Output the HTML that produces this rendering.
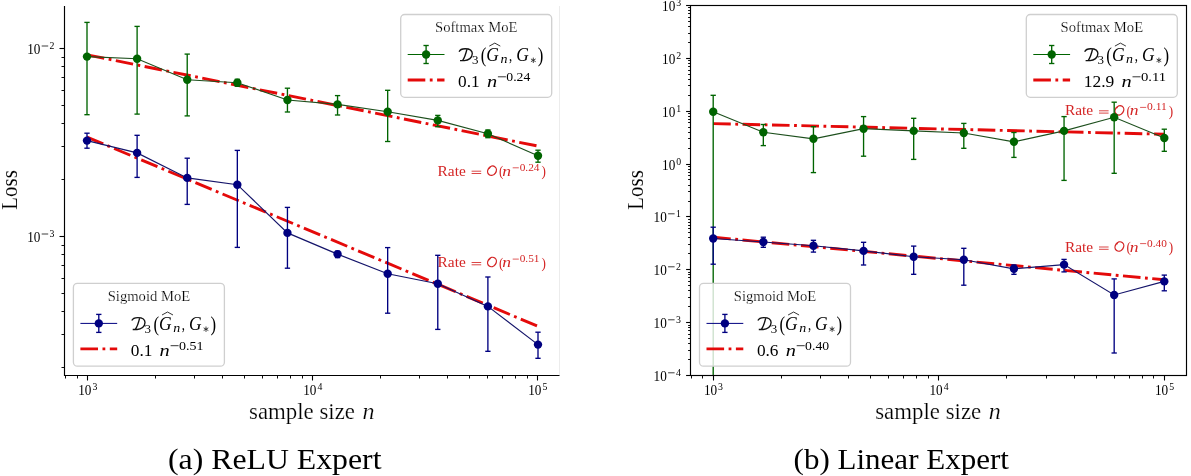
<!DOCTYPE html><html><head><meta charset="utf-8"><style>html,body{margin:0;padding:0;background:#fff;overflow:hidden}svg{display:block;will-change:transform}</style></head><body><svg width="1191" height="476" viewBox="0 0 1191 476" font-family='"Liberation Serif", serif'>
<rect width="1191" height="476" fill="#fff"/>
<line x1="559.50" y1="6.00" x2="559.50" y2="375.50" stroke="#ececec" stroke-width="1" />
<text x="437.60" y="175.70" font-size="14.3" fill="#d42525" textLength="28.20" lengthAdjust="spacingAndGlyphs" text-anchor="start" >Rate</text>
<path d="M471.60,171.20h9.6M471.60,173.50h9.6" stroke="#d42525" stroke-width="0.85" fill="none"/>
<ellipse cx="492.00" cy="170.70" rx="4.1" ry="4.9" transform="rotate(35 492.00 170.70)" fill="none" stroke="#d42525" stroke-width="1.35"/>
<path d="M489.40,168.90 c0.2,-1.2 0.9,-1.9 1.6,-2.4" fill="none" stroke="#d42525" stroke-width="0.9"/>
<text x="499.00" y="176.40" font-size="15.5" fill="#d42525" textLength="4.40" lengthAdjust="spacingAndGlyphs" text-anchor="start" >(</text>
<text x="502.30" y="175.70" font-size="14.3" fill="#d42525" font-style="italic" textLength="8.80" lengthAdjust="spacingAndGlyphs" text-anchor="start" >n</text>
<line x1="512.70" y1="167.80" x2="518.80" y2="167.80" stroke="#d42525" stroke-width="0.75"/>
<text x="519.70" y="170.70" font-size="10" fill="#d42525" textLength="19.80" lengthAdjust="spacingAndGlyphs" text-anchor="start" >0.24</text>
<text x="541.40" y="176.40" font-size="15.5" fill="#d42525" textLength="4.40" lengthAdjust="spacingAndGlyphs" text-anchor="start" >)</text>
<text x="437.60" y="267.00" font-size="14.3" fill="#d42525" textLength="28.20" lengthAdjust="spacingAndGlyphs" text-anchor="start" >Rate</text>
<path d="M471.60,262.50h9.6M471.60,264.80h9.6" stroke="#d42525" stroke-width="0.85" fill="none"/>
<ellipse cx="492.00" cy="262.00" rx="4.1" ry="4.9" transform="rotate(35 492.00 262.00)" fill="none" stroke="#d42525" stroke-width="1.35"/>
<path d="M489.40,260.20 c0.2,-1.2 0.9,-1.9 1.6,-2.4" fill="none" stroke="#d42525" stroke-width="0.9"/>
<text x="499.00" y="267.70" font-size="15.5" fill="#d42525" textLength="4.40" lengthAdjust="spacingAndGlyphs" text-anchor="start" >(</text>
<text x="502.30" y="267.00" font-size="14.3" fill="#d42525" font-style="italic" textLength="8.80" lengthAdjust="spacingAndGlyphs" text-anchor="start" >n</text>
<line x1="512.70" y1="259.10" x2="518.80" y2="259.10" stroke="#d42525" stroke-width="0.75"/>
<text x="519.70" y="262.00" font-size="10" fill="#d42525" textLength="19.80" lengthAdjust="spacingAndGlyphs" text-anchor="start" >0.51</text>
<text x="541.40" y="267.70" font-size="15.5" fill="#d42525" textLength="4.40" lengthAdjust="spacingAndGlyphs" text-anchor="start" >)</text>
<line x1="87.00" y1="54.80" x2="538.00" y2="146.10" stroke="#e40a0a" stroke-width="2.9" stroke-dasharray="17.6 4.5 2.8 4.5"/>
<line x1="87.00" y1="137.10" x2="538.00" y2="326.30" stroke="#e40a0a" stroke-width="2.9" stroke-dasharray="17.6 4.5 2.8 4.5"/>
<path d="M87.00,56.60 L137.11,58.80 L187.22,79.70 L237.33,82.70 L287.44,100.00 L337.55,104.40 L387.67,111.80 L437.78,120.40 L487.89,133.70 L538.00,155.70" fill="none" stroke="#1d4f1d" stroke-width="1.15"/>
<path d="M87.00,140.60 L137.11,152.90 L187.22,177.90 L237.33,184.70 L287.44,232.90 L337.55,254.10 L387.67,273.80 L437.78,283.80 L487.89,306.40 L538.00,344.60" fill="none" stroke="#14146a" stroke-width="1.15"/>
<circle cx="87.00" cy="56.60" r="4.2" fill="#006400"/>
<circle cx="137.11" cy="58.80" r="4.2" fill="#006400"/>
<circle cx="187.22" cy="79.70" r="4.2" fill="#006400"/>
<circle cx="237.33" cy="82.70" r="4.2" fill="#006400"/>
<circle cx="287.44" cy="100.00" r="4.2" fill="#006400"/>
<circle cx="337.55" cy="104.40" r="4.2" fill="#006400"/>
<circle cx="387.67" cy="111.80" r="4.2" fill="#006400"/>
<circle cx="437.78" cy="120.40" r="4.2" fill="#006400"/>
<circle cx="487.89" cy="133.70" r="4.2" fill="#006400"/>
<circle cx="538.00" cy="155.70" r="4.2" fill="#006400"/>
<line x1="87.00" y1="22.40" x2="87.00" y2="114.70" stroke="#006400" stroke-width="1.35" />
<line x1="84.35" y1="22.40" x2="89.65" y2="22.40" stroke="#006400" stroke-width="1.35" />
<line x1="84.35" y1="114.70" x2="89.65" y2="114.70" stroke="#006400" stroke-width="1.35" />
<line x1="137.11" y1="26.40" x2="137.11" y2="114.10" stroke="#006400" stroke-width="1.35" />
<line x1="134.46" y1="26.40" x2="139.76" y2="26.40" stroke="#006400" stroke-width="1.35" />
<line x1="134.46" y1="114.10" x2="139.76" y2="114.10" stroke="#006400" stroke-width="1.35" />
<line x1="187.22" y1="54.10" x2="187.22" y2="115.90" stroke="#006400" stroke-width="1.35" />
<line x1="184.57" y1="54.10" x2="189.87" y2="54.10" stroke="#006400" stroke-width="1.35" />
<line x1="184.57" y1="115.90" x2="189.87" y2="115.90" stroke="#006400" stroke-width="1.35" />
<line x1="237.33" y1="79.30" x2="237.33" y2="86.20" stroke="#006400" stroke-width="1.35" />
<line x1="234.68" y1="79.30" x2="239.98" y2="79.30" stroke="#006400" stroke-width="1.35" />
<line x1="234.68" y1="86.20" x2="239.98" y2="86.20" stroke="#006400" stroke-width="1.35" />
<line x1="287.44" y1="88.20" x2="287.44" y2="112.00" stroke="#006400" stroke-width="1.35" />
<line x1="284.79" y1="88.20" x2="290.09" y2="88.20" stroke="#006400" stroke-width="1.35" />
<line x1="284.79" y1="112.00" x2="290.09" y2="112.00" stroke="#006400" stroke-width="1.35" />
<line x1="337.55" y1="95.60" x2="337.55" y2="115.00" stroke="#006400" stroke-width="1.35" />
<line x1="334.90" y1="95.60" x2="340.20" y2="95.60" stroke="#006400" stroke-width="1.35" />
<line x1="334.90" y1="115.00" x2="340.20" y2="115.00" stroke="#006400" stroke-width="1.35" />
<line x1="387.67" y1="90.30" x2="387.67" y2="141.50" stroke="#006400" stroke-width="1.35" />
<line x1="385.02" y1="90.30" x2="390.32" y2="90.30" stroke="#006400" stroke-width="1.35" />
<line x1="385.02" y1="141.50" x2="390.32" y2="141.50" stroke="#006400" stroke-width="1.35" />
<line x1="437.78" y1="115.40" x2="437.78" y2="126.70" stroke="#006400" stroke-width="1.35" />
<line x1="435.13" y1="115.40" x2="440.43" y2="115.40" stroke="#006400" stroke-width="1.35" />
<line x1="435.13" y1="126.70" x2="440.43" y2="126.70" stroke="#006400" stroke-width="1.35" />
<line x1="487.89" y1="130.00" x2="487.89" y2="137.70" stroke="#006400" stroke-width="1.35" />
<line x1="485.24" y1="130.00" x2="490.54" y2="130.00" stroke="#006400" stroke-width="1.35" />
<line x1="485.24" y1="137.70" x2="490.54" y2="137.70" stroke="#006400" stroke-width="1.35" />
<line x1="538.00" y1="150.20" x2="538.00" y2="162.20" stroke="#006400" stroke-width="1.35" />
<line x1="535.35" y1="150.20" x2="540.65" y2="150.20" stroke="#006400" stroke-width="1.35" />
<line x1="535.35" y1="162.20" x2="540.65" y2="162.20" stroke="#006400" stroke-width="1.35" />
<circle cx="87.00" cy="140.60" r="4.2" fill="#000080"/>
<circle cx="137.11" cy="152.90" r="4.2" fill="#000080"/>
<circle cx="187.22" cy="177.90" r="4.2" fill="#000080"/>
<circle cx="237.33" cy="184.70" r="4.2" fill="#000080"/>
<circle cx="287.44" cy="232.90" r="4.2" fill="#000080"/>
<circle cx="337.55" cy="254.10" r="4.2" fill="#000080"/>
<circle cx="387.67" cy="273.80" r="4.2" fill="#000080"/>
<circle cx="437.78" cy="283.80" r="4.2" fill="#000080"/>
<circle cx="487.89" cy="306.40" r="4.2" fill="#000080"/>
<circle cx="538.00" cy="344.60" r="4.2" fill="#000080"/>
<line x1="87.00" y1="133.20" x2="87.00" y2="148.20" stroke="#000080" stroke-width="1.35" />
<line x1="84.35" y1="133.20" x2="89.65" y2="133.20" stroke="#000080" stroke-width="1.35" />
<line x1="84.35" y1="148.20" x2="89.65" y2="148.20" stroke="#000080" stroke-width="1.35" />
<line x1="137.11" y1="135.30" x2="137.11" y2="177.40" stroke="#000080" stroke-width="1.35" />
<line x1="134.46" y1="135.30" x2="139.76" y2="135.30" stroke="#000080" stroke-width="1.35" />
<line x1="134.46" y1="177.40" x2="139.76" y2="177.40" stroke="#000080" stroke-width="1.35" />
<line x1="187.22" y1="158.20" x2="187.22" y2="204.40" stroke="#000080" stroke-width="1.35" />
<line x1="184.57" y1="158.20" x2="189.87" y2="158.20" stroke="#000080" stroke-width="1.35" />
<line x1="184.57" y1="204.40" x2="189.87" y2="204.40" stroke="#000080" stroke-width="1.35" />
<line x1="237.33" y1="150.40" x2="237.33" y2="247.40" stroke="#000080" stroke-width="1.35" />
<line x1="234.68" y1="150.40" x2="239.98" y2="150.40" stroke="#000080" stroke-width="1.35" />
<line x1="234.68" y1="247.40" x2="239.98" y2="247.40" stroke="#000080" stroke-width="1.35" />
<line x1="287.44" y1="207.40" x2="287.44" y2="268.20" stroke="#000080" stroke-width="1.35" />
<line x1="284.79" y1="207.40" x2="290.09" y2="207.40" stroke="#000080" stroke-width="1.35" />
<line x1="284.79" y1="268.20" x2="290.09" y2="268.20" stroke="#000080" stroke-width="1.35" />
<line x1="337.55" y1="251.20" x2="337.55" y2="257.60" stroke="#000080" stroke-width="1.35" />
<line x1="334.90" y1="251.20" x2="340.20" y2="251.20" stroke="#000080" stroke-width="1.35" />
<line x1="334.90" y1="257.60" x2="340.20" y2="257.60" stroke="#000080" stroke-width="1.35" />
<line x1="387.67" y1="247.60" x2="387.67" y2="313.20" stroke="#000080" stroke-width="1.35" />
<line x1="385.02" y1="247.60" x2="390.32" y2="247.60" stroke="#000080" stroke-width="1.35" />
<line x1="385.02" y1="313.20" x2="390.32" y2="313.20" stroke="#000080" stroke-width="1.35" />
<line x1="437.78" y1="255.30" x2="437.78" y2="329.40" stroke="#000080" stroke-width="1.35" />
<line x1="435.13" y1="255.30" x2="440.43" y2="255.30" stroke="#000080" stroke-width="1.35" />
<line x1="435.13" y1="329.40" x2="440.43" y2="329.40" stroke="#000080" stroke-width="1.35" />
<line x1="487.89" y1="277.00" x2="487.89" y2="351.30" stroke="#000080" stroke-width="1.35" />
<line x1="485.24" y1="277.00" x2="490.54" y2="277.00" stroke="#000080" stroke-width="1.35" />
<line x1="485.24" y1="351.30" x2="490.54" y2="351.30" stroke="#000080" stroke-width="1.35" />
<line x1="538.00" y1="332.20" x2="538.00" y2="358.30" stroke="#000080" stroke-width="1.35" />
<line x1="535.35" y1="332.20" x2="540.65" y2="332.20" stroke="#000080" stroke-width="1.35" />
<line x1="535.35" y1="358.30" x2="540.65" y2="358.30" stroke="#000080" stroke-width="1.35" />
<line x1="64.50" y1="6.00" x2="64.50" y2="376.00" stroke="#000" stroke-width="1.15" />
<line x1="64.00" y1="375.50" x2="559.50" y2="375.50" stroke="#000" stroke-width="1.15" />
<line x1="59.50" y1="48.50" x2="64.50" y2="48.50" stroke="#000" stroke-width="1.1" />
<line x1="59.50" y1="236.50" x2="64.50" y2="236.50" stroke="#000" stroke-width="1.1" />
<line x1="61.50" y1="367.50" x2="64.50" y2="367.50" stroke="#000" stroke-width="0.95" />
<line x1="61.50" y1="334.50" x2="64.50" y2="334.50" stroke="#000" stroke-width="0.95" />
<line x1="61.50" y1="311.50" x2="64.50" y2="311.50" stroke="#000" stroke-width="0.95" />
<line x1="61.50" y1="293.50" x2="64.50" y2="293.50" stroke="#000" stroke-width="0.95" />
<line x1="61.50" y1="278.50" x2="64.50" y2="278.50" stroke="#000" stroke-width="0.95" />
<line x1="61.50" y1="265.50" x2="64.50" y2="265.50" stroke="#000" stroke-width="0.95" />
<line x1="61.50" y1="254.50" x2="64.50" y2="254.50" stroke="#000" stroke-width="0.95" />
<line x1="61.50" y1="245.50" x2="64.50" y2="245.50" stroke="#000" stroke-width="0.95" />
<line x1="61.50" y1="179.50" x2="64.50" y2="179.50" stroke="#000" stroke-width="0.95" />
<line x1="61.50" y1="146.50" x2="64.50" y2="146.50" stroke="#000" stroke-width="0.95" />
<line x1="61.50" y1="123.50" x2="64.50" y2="123.50" stroke="#000" stroke-width="0.95" />
<line x1="61.50" y1="105.50" x2="64.50" y2="105.50" stroke="#000" stroke-width="0.95" />
<line x1="61.50" y1="90.50" x2="64.50" y2="90.50" stroke="#000" stroke-width="0.95" />
<line x1="61.50" y1="77.50" x2="64.50" y2="77.50" stroke="#000" stroke-width="0.95" />
<line x1="61.50" y1="66.50" x2="64.50" y2="66.50" stroke="#000" stroke-width="0.95" />
<line x1="61.50" y1="57.50" x2="64.50" y2="57.50" stroke="#000" stroke-width="0.95" />
<line x1="87.50" y1="375.50" x2="87.50" y2="380.50" stroke="#000" stroke-width="1.1" />
<line x1="312.50" y1="375.50" x2="312.50" y2="380.50" stroke="#000" stroke-width="1.1" />
<line x1="537.50" y1="375.50" x2="537.50" y2="380.50" stroke="#000" stroke-width="1.1" />
<line x1="65.50" y1="375.50" x2="65.50" y2="378.50" stroke="#000" stroke-width="0.95" />
<line x1="77.50" y1="375.50" x2="77.50" y2="378.50" stroke="#000" stroke-width="0.95" />
<line x1="155.50" y1="375.50" x2="155.50" y2="378.50" stroke="#000" stroke-width="0.95" />
<line x1="194.50" y1="375.50" x2="194.50" y2="378.50" stroke="#000" stroke-width="0.95" />
<line x1="222.50" y1="375.50" x2="222.50" y2="378.50" stroke="#000" stroke-width="0.95" />
<line x1="244.50" y1="375.50" x2="244.50" y2="378.50" stroke="#000" stroke-width="0.95" />
<line x1="262.50" y1="375.50" x2="262.50" y2="378.50" stroke="#000" stroke-width="0.95" />
<line x1="277.50" y1="375.50" x2="277.50" y2="378.50" stroke="#000" stroke-width="0.95" />
<line x1="290.50" y1="375.50" x2="290.50" y2="378.50" stroke="#000" stroke-width="0.95" />
<line x1="302.50" y1="375.50" x2="302.50" y2="378.50" stroke="#000" stroke-width="0.95" />
<line x1="380.50" y1="375.50" x2="380.50" y2="378.50" stroke="#000" stroke-width="0.95" />
<line x1="419.50" y1="375.50" x2="419.50" y2="378.50" stroke="#000" stroke-width="0.95" />
<line x1="447.50" y1="375.50" x2="447.50" y2="378.50" stroke="#000" stroke-width="0.95" />
<line x1="469.50" y1="375.50" x2="469.50" y2="378.50" stroke="#000" stroke-width="0.95" />
<line x1="487.50" y1="375.50" x2="487.50" y2="378.50" stroke="#000" stroke-width="0.95" />
<line x1="502.50" y1="375.50" x2="502.50" y2="378.50" stroke="#000" stroke-width="0.95" />
<line x1="515.50" y1="375.50" x2="515.50" y2="378.50" stroke="#000" stroke-width="0.95" />
<line x1="527.50" y1="375.50" x2="527.50" y2="378.50" stroke="#000" stroke-width="0.95" />
<text x="27.20" y="53.80" font-size="14.5" fill="#000" textLength="13.20" lengthAdjust="spacingAndGlyphs" text-anchor="start" >10</text>
<line x1="41.70" y1="46.00" x2="48.20" y2="46.00" stroke="#333" stroke-width="0.95"/>
<text x="49.60" y="49.00" font-size="10.2" fill="#000" textLength="4.90" lengthAdjust="spacingAndGlyphs" text-anchor="start" >2</text>
<text x="27.20" y="241.80" font-size="14.5" fill="#000" textLength="13.20" lengthAdjust="spacingAndGlyphs" text-anchor="start" >10</text>
<line x1="41.70" y1="234.00" x2="48.20" y2="234.00" stroke="#333" stroke-width="0.95"/>
<text x="49.60" y="237.00" font-size="10.2" fill="#000" textLength="4.90" lengthAdjust="spacingAndGlyphs" text-anchor="start" >3</text>
<text x="78.20" y="394.90" font-size="14.5" fill="#000" textLength="13.20" lengthAdjust="spacingAndGlyphs" text-anchor="start" >10</text>
<text x="92.40" y="390.10" font-size="10.2" fill="#000" textLength="4.90" lengthAdjust="spacingAndGlyphs" text-anchor="start" >3</text>
<text x="303.20" y="394.90" font-size="14.5" fill="#000" textLength="13.20" lengthAdjust="spacingAndGlyphs" text-anchor="start" >10</text>
<text x="317.40" y="390.10" font-size="10.2" fill="#000" textLength="4.90" lengthAdjust="spacingAndGlyphs" text-anchor="start" >4</text>
<text x="528.20" y="394.90" font-size="14.5" fill="#000" textLength="13.20" lengthAdjust="spacingAndGlyphs" text-anchor="start" >10</text>
<text x="542.40" y="390.10" font-size="10.2" fill="#000" textLength="4.90" lengthAdjust="spacingAndGlyphs" text-anchor="start" >5</text>
<rect x="400.70" y="14.50" width="151" height="82.8" rx="4" ry="4" fill="#fff" fill-opacity="0.8" stroke="#cfcfcf" stroke-width="1.3"/>
<text x="435.00" y="32.00" font-size="13.8" fill="#000" textLength="82.50" lengthAdjust="spacingAndGlyphs" text-anchor="start" stroke="#fff" stroke-width="0.2">Softmax MoE</text>
<line x1="407.70" y1="54.50" x2="444.50" y2="54.50" stroke="#006400" stroke-width="1.0" />
<line x1="426.10" y1="45.50" x2="426.10" y2="63.50" stroke="#006400" stroke-width="1.35" />
<line x1="423.45" y1="45.50" x2="428.75" y2="45.50" stroke="#006400" stroke-width="1.35" />
<line x1="423.45" y1="63.50" x2="428.75" y2="63.50" stroke="#006400" stroke-width="1.35" />
<circle cx="426.10" cy="54.50" r="4.2" fill="#006400"/>
<line x1="407.70" y1="80.00" x2="444.50" y2="80.00" stroke="#e40a0a" stroke-width="2.9" stroke-dasharray="17.6 4.5 2.8 4.5"/>
<path transform="translate(459.10,60.60)" d="M0,-8.9 C0.8,-10.9 3,-11.9 6,-11.9 C10.6,-11.9 13.2,-10 13.2,-7 C13.2,-2.9 9.4,0 5.3,0 L0.9,0 M7.9,-11.6 C6.9,-7.5 5.6,-3 3.6,-0.3" fill="none" stroke="#111" stroke-width="1.35"/>
<text x="471.90" y="63.70" font-size="12" fill="#000" textLength="6.50" lengthAdjust="spacingAndGlyphs" text-anchor="start" >3</text>
<text x="480.70" y="62.10" font-size="20" fill="#000" textLength="5.60" lengthAdjust="spacingAndGlyphs" text-anchor="start" >(</text>
<path d="M489.30,46.10 L494.80,43.10 L500.30,46.10" fill="none" stroke="#111" stroke-width="0.85"/>
<text x="486.30" y="61.10" font-size="18.6" fill="#000" font-style="italic" textLength="12.60" lengthAdjust="spacingAndGlyphs" text-anchor="start" >G</text>
<text x="500.50" y="63.10" font-size="12" fill="#000" font-style="italic" textLength="7.00" lengthAdjust="spacingAndGlyphs" text-anchor="start" >n</text>
<text x="509.10" y="61.20" font-size="17" fill="#000" textLength="3.20" lengthAdjust="spacingAndGlyphs" text-anchor="start" >,</text>
<text x="516.30" y="61.10" font-size="18.6" fill="#000" font-style="italic" textLength="12.60" lengthAdjust="spacingAndGlyphs" text-anchor="start" >G</text>
<path d="M533.30,57.60V63.00M530.95,58.95L535.65,61.65M530.95,61.65L535.65,58.95" stroke="#222" stroke-width="0.85" fill="none"/>
<text x="537.80" y="62.10" font-size="20" fill="#000" textLength="5.60" lengthAdjust="spacingAndGlyphs" text-anchor="start" >)</text>
<text x="458.10" y="86.80" font-size="17.5" fill="#000" textLength="21.60" lengthAdjust="spacingAndGlyphs" text-anchor="start" >0.1</text>
<text x="486.90" y="86.80" font-size="17.2" fill="#000" font-style="italic" textLength="10.20" lengthAdjust="spacingAndGlyphs" text-anchor="start" >n</text>
<line x1="497.90" y1="76.80" x2="505.90" y2="76.80" stroke="#111" stroke-width="0.85"/>
<text x="506.30" y="80.90" font-size="12.2" fill="#000" textLength="24.00" lengthAdjust="spacingAndGlyphs" text-anchor="start" >0.24</text>
<rect x="73.40" y="283.40" width="151" height="82.8" rx="4" ry="4" fill="#fff" fill-opacity="0.8" stroke="#cfcfcf" stroke-width="1.3"/>
<text x="107.70" y="300.90" font-size="13.8" fill="#000" textLength="82.50" lengthAdjust="spacingAndGlyphs" text-anchor="start" stroke="#fff" stroke-width="0.2">Sigmoid MoE</text>
<line x1="80.40" y1="323.40" x2="117.20" y2="323.40" stroke="#000080" stroke-width="1.0" />
<line x1="98.80" y1="314.40" x2="98.80" y2="332.40" stroke="#000080" stroke-width="1.35" />
<line x1="96.15" y1="314.40" x2="101.45" y2="314.40" stroke="#000080" stroke-width="1.35" />
<line x1="96.15" y1="332.40" x2="101.45" y2="332.40" stroke="#000080" stroke-width="1.35" />
<circle cx="98.80" cy="323.40" r="4.2" fill="#000080"/>
<line x1="80.40" y1="348.90" x2="117.20" y2="348.90" stroke="#e40a0a" stroke-width="2.9" stroke-dasharray="17.6 4.5 2.8 4.5"/>
<path transform="translate(131.80,329.50)" d="M0,-8.9 C0.8,-10.9 3,-11.9 6,-11.9 C10.6,-11.9 13.2,-10 13.2,-7 C13.2,-2.9 9.4,0 5.3,0 L0.9,0 M7.9,-11.6 C6.9,-7.5 5.6,-3 3.6,-0.3" fill="none" stroke="#111" stroke-width="1.35"/>
<text x="144.60" y="332.60" font-size="12" fill="#000" textLength="6.50" lengthAdjust="spacingAndGlyphs" text-anchor="start" >3</text>
<text x="153.40" y="331.00" font-size="20" fill="#000" textLength="5.60" lengthAdjust="spacingAndGlyphs" text-anchor="start" >(</text>
<path d="M162.00,315.00 L167.50,312.00 L173.00,315.00" fill="none" stroke="#111" stroke-width="0.85"/>
<text x="159.00" y="330.00" font-size="18.6" fill="#000" font-style="italic" textLength="12.60" lengthAdjust="spacingAndGlyphs" text-anchor="start" >G</text>
<text x="173.20" y="332.00" font-size="12" fill="#000" font-style="italic" textLength="7.00" lengthAdjust="spacingAndGlyphs" text-anchor="start" >n</text>
<text x="181.80" y="330.10" font-size="17" fill="#000" textLength="3.20" lengthAdjust="spacingAndGlyphs" text-anchor="start" >,</text>
<text x="189.00" y="330.00" font-size="18.6" fill="#000" font-style="italic" textLength="12.60" lengthAdjust="spacingAndGlyphs" text-anchor="start" >G</text>
<path d="M206.00,326.50V331.90M203.65,327.85L208.35,330.55M203.65,330.55L208.35,327.85" stroke="#222" stroke-width="0.85" fill="none"/>
<text x="210.50" y="331.00" font-size="20" fill="#000" textLength="5.60" lengthAdjust="spacingAndGlyphs" text-anchor="start" >)</text>
<text x="130.80" y="355.70" font-size="17.5" fill="#000" textLength="21.60" lengthAdjust="spacingAndGlyphs" text-anchor="start" >0.1</text>
<text x="159.60" y="355.70" font-size="17.2" fill="#000" font-style="italic" textLength="10.20" lengthAdjust="spacingAndGlyphs" text-anchor="start" >n</text>
<line x1="170.60" y1="345.70" x2="178.60" y2="345.70" stroke="#111" stroke-width="0.85"/>
<text x="179.00" y="349.80" font-size="12.2" fill="#000" textLength="24.50" lengthAdjust="spacingAndGlyphs" text-anchor="start" >0.51</text>
<text x="249.00" y="419.10" font-size="22.5" fill="#000" textLength="106.00" lengthAdjust="spacingAndGlyphs" stroke="#fff" stroke-width="0.20" text-anchor="start" >sample size</text>
<text x="362.50" y="419.10" font-size="22.5" fill="#000" font-style="italic" textLength="12.00" lengthAdjust="spacingAndGlyphs" stroke="#fff" stroke-width="0.20" text-anchor="start" >n</text>
<text transform="translate(16.8,209.7) rotate(-90)" font-size="23" textLength="39.5" lengthAdjust="spacingAndGlyphs" stroke="#fff" stroke-width="0.1">Loss</text>
<text x="168.00" y="468.70" font-size="30.2" fill="#000" textLength="213.50" lengthAdjust="spacingAndGlyphs" text-anchor="start" >(a) ReLU Expert</text>
<text x="1065.00" y="115.30" font-size="14.3" fill="#d42525" textLength="28.20" lengthAdjust="spacingAndGlyphs" text-anchor="start" >Rate</text>
<path d="M1099.00,110.80h9.6M1099.00,113.10h9.6" stroke="#d42525" stroke-width="0.85" fill="none"/>
<ellipse cx="1119.40" cy="110.30" rx="4.1" ry="4.9" transform="rotate(35 1119.40 110.30)" fill="none" stroke="#d42525" stroke-width="1.35"/>
<path d="M1116.80,108.50 c0.2,-1.2 0.9,-1.9 1.6,-2.4" fill="none" stroke="#d42525" stroke-width="0.9"/>
<text x="1126.40" y="116.00" font-size="15.5" fill="#d42525" textLength="4.40" lengthAdjust="spacingAndGlyphs" text-anchor="start" >(</text>
<text x="1129.70" y="115.30" font-size="14.3" fill="#d42525" font-style="italic" textLength="8.80" lengthAdjust="spacingAndGlyphs" text-anchor="start" >n</text>
<line x1="1140.10" y1="107.40" x2="1146.20" y2="107.40" stroke="#d42525" stroke-width="0.75"/>
<text x="1147.10" y="110.30" font-size="10" fill="#d42525" textLength="19.80" lengthAdjust="spacingAndGlyphs" text-anchor="start" >0.11</text>
<text x="1168.80" y="116.00" font-size="15.5" fill="#d42525" textLength="4.40" lengthAdjust="spacingAndGlyphs" text-anchor="start" >)</text>
<text x="1065.00" y="251.50" font-size="14.3" fill="#d42525" textLength="28.20" lengthAdjust="spacingAndGlyphs" text-anchor="start" >Rate</text>
<path d="M1099.00,247.00h9.6M1099.00,249.30h9.6" stroke="#d42525" stroke-width="0.85" fill="none"/>
<ellipse cx="1119.40" cy="246.50" rx="4.1" ry="4.9" transform="rotate(35 1119.40 246.50)" fill="none" stroke="#d42525" stroke-width="1.35"/>
<path d="M1116.80,244.70 c0.2,-1.2 0.9,-1.9 1.6,-2.4" fill="none" stroke="#d42525" stroke-width="0.9"/>
<text x="1126.40" y="252.20" font-size="15.5" fill="#d42525" textLength="4.40" lengthAdjust="spacingAndGlyphs" text-anchor="start" >(</text>
<text x="1129.70" y="251.50" font-size="14.3" fill="#d42525" font-style="italic" textLength="8.80" lengthAdjust="spacingAndGlyphs" text-anchor="start" >n</text>
<line x1="1140.10" y1="243.60" x2="1146.20" y2="243.60" stroke="#d42525" stroke-width="0.75"/>
<text x="1147.10" y="246.50" font-size="10" fill="#d42525" textLength="19.80" lengthAdjust="spacingAndGlyphs" text-anchor="start" >0.40</text>
<text x="1168.80" y="252.20" font-size="15.5" fill="#d42525" textLength="4.40" lengthAdjust="spacingAndGlyphs" text-anchor="start" >)</text>
<line x1="713.20" y1="123.60" x2="1164.30" y2="134.20" stroke="#e40a0a" stroke-width="2.9" stroke-dasharray="17.6 4.5 2.8 4.5"/>
<line x1="713.20" y1="237.20" x2="1164.30" y2="279.80" stroke="#e40a0a" stroke-width="2.9" stroke-dasharray="17.6 4.5 2.8 4.5"/>
<path d="M713.20,111.80 L763.32,132.20 L813.44,138.80 L863.57,128.70 L913.69,130.90 L963.81,133.00 L1013.93,141.80 L1064.05,130.90 L1114.18,117.30 L1164.30,138.00" fill="none" stroke="#1d4f1d" stroke-width="1.15"/>
<path d="M713.20,238.50 L763.32,242.00 L813.44,245.80 L863.57,250.90 L913.69,256.70 L963.81,259.70 L1013.93,268.80 L1064.05,264.60 L1114.18,295.00 L1164.30,281.40" fill="none" stroke="#14146a" stroke-width="1.15"/>
<circle cx="713.20" cy="111.80" r="4.2" fill="#006400"/>
<circle cx="763.32" cy="132.20" r="4.2" fill="#006400"/>
<circle cx="813.44" cy="138.80" r="4.2" fill="#006400"/>
<circle cx="863.57" cy="128.70" r="4.2" fill="#006400"/>
<circle cx="913.69" cy="130.90" r="4.2" fill="#006400"/>
<circle cx="963.81" cy="133.00" r="4.2" fill="#006400"/>
<circle cx="1013.93" cy="141.80" r="4.2" fill="#006400"/>
<circle cx="1064.05" cy="130.90" r="4.2" fill="#006400"/>
<circle cx="1114.18" cy="117.30" r="4.2" fill="#006400"/>
<circle cx="1164.30" cy="138.00" r="4.2" fill="#006400"/>
<line x1="713.20" y1="95.30" x2="713.20" y2="375.50" stroke="#006400" stroke-width="1.35" />
<line x1="710.55" y1="95.30" x2="715.85" y2="95.30" stroke="#006400" stroke-width="1.35" />
<line x1="763.32" y1="124.50" x2="763.32" y2="145.60" stroke="#006400" stroke-width="1.35" />
<line x1="760.67" y1="124.50" x2="765.97" y2="124.50" stroke="#006400" stroke-width="1.35" />
<line x1="760.67" y1="145.60" x2="765.97" y2="145.60" stroke="#006400" stroke-width="1.35" />
<line x1="813.44" y1="126.70" x2="813.44" y2="172.60" stroke="#006400" stroke-width="1.35" />
<line x1="810.79" y1="126.70" x2="816.09" y2="126.70" stroke="#006400" stroke-width="1.35" />
<line x1="810.79" y1="172.60" x2="816.09" y2="172.60" stroke="#006400" stroke-width="1.35" />
<line x1="863.57" y1="116.60" x2="863.57" y2="156.20" stroke="#006400" stroke-width="1.35" />
<line x1="860.92" y1="116.60" x2="866.22" y2="116.60" stroke="#006400" stroke-width="1.35" />
<line x1="860.92" y1="156.20" x2="866.22" y2="156.20" stroke="#006400" stroke-width="1.35" />
<line x1="913.69" y1="118.30" x2="913.69" y2="159.40" stroke="#006400" stroke-width="1.35" />
<line x1="911.04" y1="118.30" x2="916.34" y2="118.30" stroke="#006400" stroke-width="1.35" />
<line x1="911.04" y1="159.40" x2="916.34" y2="159.40" stroke="#006400" stroke-width="1.35" />
<line x1="963.81" y1="123.40" x2="963.81" y2="148.30" stroke="#006400" stroke-width="1.35" />
<line x1="961.16" y1="123.40" x2="966.46" y2="123.40" stroke="#006400" stroke-width="1.35" />
<line x1="961.16" y1="148.30" x2="966.46" y2="148.30" stroke="#006400" stroke-width="1.35" />
<line x1="1013.93" y1="132.50" x2="1013.93" y2="157.40" stroke="#006400" stroke-width="1.35" />
<line x1="1011.28" y1="132.50" x2="1016.58" y2="132.50" stroke="#006400" stroke-width="1.35" />
<line x1="1011.28" y1="157.40" x2="1016.58" y2="157.40" stroke="#006400" stroke-width="1.35" />
<line x1="1064.05" y1="116.60" x2="1064.05" y2="180.40" stroke="#006400" stroke-width="1.35" />
<line x1="1061.40" y1="116.60" x2="1066.70" y2="116.60" stroke="#006400" stroke-width="1.35" />
<line x1="1061.40" y1="180.40" x2="1066.70" y2="180.40" stroke="#006400" stroke-width="1.35" />
<line x1="1114.18" y1="102.20" x2="1114.18" y2="173.30" stroke="#006400" stroke-width="1.35" />
<line x1="1111.53" y1="102.20" x2="1116.83" y2="102.20" stroke="#006400" stroke-width="1.35" />
<line x1="1111.53" y1="173.30" x2="1116.83" y2="173.30" stroke="#006400" stroke-width="1.35" />
<line x1="1164.30" y1="129.20" x2="1164.30" y2="151.30" stroke="#006400" stroke-width="1.35" />
<line x1="1161.65" y1="129.20" x2="1166.95" y2="129.20" stroke="#006400" stroke-width="1.35" />
<line x1="1161.65" y1="151.30" x2="1166.95" y2="151.30" stroke="#006400" stroke-width="1.35" />
<circle cx="713.20" cy="238.50" r="4.2" fill="#000080"/>
<circle cx="763.32" cy="242.00" r="4.2" fill="#000080"/>
<circle cx="813.44" cy="245.80" r="4.2" fill="#000080"/>
<circle cx="863.57" cy="250.90" r="4.2" fill="#000080"/>
<circle cx="913.69" cy="256.70" r="4.2" fill="#000080"/>
<circle cx="963.81" cy="259.70" r="4.2" fill="#000080"/>
<circle cx="1013.93" cy="268.80" r="4.2" fill="#000080"/>
<circle cx="1064.05" cy="264.60" r="4.2" fill="#000080"/>
<circle cx="1114.18" cy="295.00" r="4.2" fill="#000080"/>
<circle cx="1164.30" cy="281.40" r="4.2" fill="#000080"/>
<line x1="713.20" y1="227.20" x2="713.20" y2="264.20" stroke="#000080" stroke-width="1.35" />
<line x1="710.55" y1="227.20" x2="715.85" y2="227.20" stroke="#000080" stroke-width="1.35" />
<line x1="710.55" y1="264.20" x2="715.85" y2="264.20" stroke="#000080" stroke-width="1.35" />
<line x1="763.32" y1="237.20" x2="763.32" y2="247.30" stroke="#000080" stroke-width="1.35" />
<line x1="760.67" y1="237.20" x2="765.97" y2="237.20" stroke="#000080" stroke-width="1.35" />
<line x1="760.67" y1="247.30" x2="765.97" y2="247.30" stroke="#000080" stroke-width="1.35" />
<line x1="813.44" y1="240.30" x2="813.44" y2="252.10" stroke="#000080" stroke-width="1.35" />
<line x1="810.79" y1="240.30" x2="816.09" y2="240.30" stroke="#000080" stroke-width="1.35" />
<line x1="810.79" y1="252.10" x2="816.09" y2="252.10" stroke="#000080" stroke-width="1.35" />
<line x1="863.57" y1="242.30" x2="863.57" y2="265.00" stroke="#000080" stroke-width="1.35" />
<line x1="860.92" y1="242.30" x2="866.22" y2="242.30" stroke="#000080" stroke-width="1.35" />
<line x1="860.92" y1="265.00" x2="866.22" y2="265.00" stroke="#000080" stroke-width="1.35" />
<line x1="913.69" y1="246.10" x2="913.69" y2="274.30" stroke="#000080" stroke-width="1.35" />
<line x1="911.04" y1="246.10" x2="916.34" y2="246.10" stroke="#000080" stroke-width="1.35" />
<line x1="911.04" y1="274.30" x2="916.34" y2="274.30" stroke="#000080" stroke-width="1.35" />
<line x1="963.81" y1="248.30" x2="963.81" y2="285.20" stroke="#000080" stroke-width="1.35" />
<line x1="961.16" y1="248.30" x2="966.46" y2="248.30" stroke="#000080" stroke-width="1.35" />
<line x1="961.16" y1="285.20" x2="966.46" y2="285.20" stroke="#000080" stroke-width="1.35" />
<line x1="1013.93" y1="265.00" x2="1013.93" y2="274.30" stroke="#000080" stroke-width="1.35" />
<line x1="1011.28" y1="265.00" x2="1016.58" y2="265.00" stroke="#000080" stroke-width="1.35" />
<line x1="1011.28" y1="274.30" x2="1016.58" y2="274.30" stroke="#000080" stroke-width="1.35" />
<line x1="1064.05" y1="259.40" x2="1064.05" y2="271.90" stroke="#000080" stroke-width="1.35" />
<line x1="1061.40" y1="259.40" x2="1066.70" y2="259.40" stroke="#000080" stroke-width="1.35" />
<line x1="1061.40" y1="271.90" x2="1066.70" y2="271.90" stroke="#000080" stroke-width="1.35" />
<line x1="1114.18" y1="278.90" x2="1114.18" y2="353.00" stroke="#000080" stroke-width="1.35" />
<line x1="1111.53" y1="278.90" x2="1116.83" y2="278.90" stroke="#000080" stroke-width="1.35" />
<line x1="1111.53" y1="353.00" x2="1116.83" y2="353.00" stroke="#000080" stroke-width="1.35" />
<line x1="1164.30" y1="275.10" x2="1164.30" y2="290.80" stroke="#000080" stroke-width="1.35" />
<line x1="1161.65" y1="275.10" x2="1166.95" y2="275.10" stroke="#000080" stroke-width="1.35" />
<line x1="1161.65" y1="290.80" x2="1166.95" y2="290.80" stroke="#000080" stroke-width="1.35" />
<rect x="690.50" y="5.50" width="496.00" height="370.00" fill="none" stroke="#000" stroke-width="1.15"/>
<line x1="686.10" y1="5.50" x2="690.50" y2="5.50" stroke="#000" stroke-width="1.1" />
<line x1="686.10" y1="58.50" x2="690.50" y2="58.50" stroke="#000" stroke-width="1.1" />
<line x1="686.10" y1="111.50" x2="690.50" y2="111.50" stroke="#000" stroke-width="1.1" />
<line x1="686.10" y1="164.50" x2="690.50" y2="164.50" stroke="#000" stroke-width="1.1" />
<line x1="686.10" y1="216.50" x2="690.50" y2="216.50" stroke="#000" stroke-width="1.1" />
<line x1="686.10" y1="269.50" x2="690.50" y2="269.50" stroke="#000" stroke-width="1.1" />
<line x1="686.10" y1="322.50" x2="690.50" y2="322.50" stroke="#000" stroke-width="1.1" />
<line x1="686.10" y1="375.50" x2="690.50" y2="375.50" stroke="#000" stroke-width="1.1" />
<line x1="688.10" y1="359.50" x2="690.50" y2="359.50" stroke="#000" stroke-width="0.95" />
<line x1="688.10" y1="350.50" x2="690.50" y2="350.50" stroke="#000" stroke-width="0.95" />
<line x1="688.10" y1="343.50" x2="690.50" y2="343.50" stroke="#000" stroke-width="0.95" />
<line x1="688.10" y1="338.50" x2="690.50" y2="338.50" stroke="#000" stroke-width="0.95" />
<line x1="688.10" y1="334.50" x2="690.50" y2="334.50" stroke="#000" stroke-width="0.95" />
<line x1="688.10" y1="330.50" x2="690.50" y2="330.50" stroke="#000" stroke-width="0.95" />
<line x1="688.10" y1="327.50" x2="690.50" y2="327.50" stroke="#000" stroke-width="0.95" />
<line x1="688.10" y1="325.50" x2="690.50" y2="325.50" stroke="#000" stroke-width="0.95" />
<line x1="688.10" y1="306.50" x2="690.50" y2="306.50" stroke="#000" stroke-width="0.95" />
<line x1="688.10" y1="297.50" x2="690.50" y2="297.50" stroke="#000" stroke-width="0.95" />
<line x1="688.10" y1="290.50" x2="690.50" y2="290.50" stroke="#000" stroke-width="0.95" />
<line x1="688.10" y1="285.50" x2="690.50" y2="285.50" stroke="#000" stroke-width="0.95" />
<line x1="688.10" y1="281.50" x2="690.50" y2="281.50" stroke="#000" stroke-width="0.95" />
<line x1="688.10" y1="277.50" x2="690.50" y2="277.50" stroke="#000" stroke-width="0.95" />
<line x1="688.10" y1="274.50" x2="690.50" y2="274.50" stroke="#000" stroke-width="0.95" />
<line x1="688.10" y1="272.50" x2="690.50" y2="272.50" stroke="#000" stroke-width="0.95" />
<line x1="688.10" y1="253.50" x2="690.50" y2="253.50" stroke="#000" stroke-width="0.95" />
<line x1="688.10" y1="244.50" x2="690.50" y2="244.50" stroke="#000" stroke-width="0.95" />
<line x1="688.10" y1="237.50" x2="690.50" y2="237.50" stroke="#000" stroke-width="0.95" />
<line x1="688.10" y1="232.50" x2="690.50" y2="232.50" stroke="#000" stroke-width="0.95" />
<line x1="688.10" y1="228.50" x2="690.50" y2="228.50" stroke="#000" stroke-width="0.95" />
<line x1="688.10" y1="225.50" x2="690.50" y2="225.50" stroke="#000" stroke-width="0.95" />
<line x1="688.10" y1="222.50" x2="690.50" y2="222.50" stroke="#000" stroke-width="0.95" />
<line x1="688.10" y1="219.50" x2="690.50" y2="219.50" stroke="#000" stroke-width="0.95" />
<line x1="688.10" y1="201.50" x2="690.50" y2="201.50" stroke="#000" stroke-width="0.95" />
<line x1="688.10" y1="191.50" x2="690.50" y2="191.50" stroke="#000" stroke-width="0.95" />
<line x1="688.10" y1="185.50" x2="690.50" y2="185.50" stroke="#000" stroke-width="0.95" />
<line x1="688.10" y1="179.50" x2="690.50" y2="179.50" stroke="#000" stroke-width="0.95" />
<line x1="688.10" y1="175.50" x2="690.50" y2="175.50" stroke="#000" stroke-width="0.95" />
<line x1="688.10" y1="172.50" x2="690.50" y2="172.50" stroke="#000" stroke-width="0.95" />
<line x1="688.10" y1="169.50" x2="690.50" y2="169.50" stroke="#000" stroke-width="0.95" />
<line x1="688.10" y1="166.50" x2="690.50" y2="166.50" stroke="#000" stroke-width="0.95" />
<line x1="688.10" y1="148.50" x2="690.50" y2="148.50" stroke="#000" stroke-width="0.95" />
<line x1="688.10" y1="138.50" x2="690.50" y2="138.50" stroke="#000" stroke-width="0.95" />
<line x1="688.10" y1="132.50" x2="690.50" y2="132.50" stroke="#000" stroke-width="0.95" />
<line x1="688.10" y1="127.50" x2="690.50" y2="127.50" stroke="#000" stroke-width="0.95" />
<line x1="688.10" y1="122.50" x2="690.50" y2="122.50" stroke="#000" stroke-width="0.95" />
<line x1="688.10" y1="119.50" x2="690.50" y2="119.50" stroke="#000" stroke-width="0.95" />
<line x1="688.10" y1="116.50" x2="690.50" y2="116.50" stroke="#000" stroke-width="0.95" />
<line x1="688.10" y1="113.50" x2="690.50" y2="113.50" stroke="#000" stroke-width="0.95" />
<line x1="688.10" y1="95.50" x2="690.50" y2="95.50" stroke="#000" stroke-width="0.95" />
<line x1="688.10" y1="85.50" x2="690.50" y2="85.50" stroke="#000" stroke-width="0.95" />
<line x1="688.10" y1="79.50" x2="690.50" y2="79.50" stroke="#000" stroke-width="0.95" />
<line x1="688.10" y1="74.50" x2="690.50" y2="74.50" stroke="#000" stroke-width="0.95" />
<line x1="688.10" y1="70.50" x2="690.50" y2="70.50" stroke="#000" stroke-width="0.95" />
<line x1="688.10" y1="66.50" x2="690.50" y2="66.50" stroke="#000" stroke-width="0.95" />
<line x1="688.10" y1="63.50" x2="690.50" y2="63.50" stroke="#000" stroke-width="0.95" />
<line x1="688.10" y1="60.50" x2="690.50" y2="60.50" stroke="#000" stroke-width="0.95" />
<line x1="688.10" y1="42.50" x2="690.50" y2="42.50" stroke="#000" stroke-width="0.95" />
<line x1="688.10" y1="33.50" x2="690.50" y2="33.50" stroke="#000" stroke-width="0.95" />
<line x1="688.10" y1="26.50" x2="690.50" y2="26.50" stroke="#000" stroke-width="0.95" />
<line x1="688.10" y1="21.50" x2="690.50" y2="21.50" stroke="#000" stroke-width="0.95" />
<line x1="688.10" y1="17.50" x2="690.50" y2="17.50" stroke="#000" stroke-width="0.95" />
<line x1="688.10" y1="13.50" x2="690.50" y2="13.50" stroke="#000" stroke-width="0.95" />
<line x1="688.10" y1="10.50" x2="690.50" y2="10.50" stroke="#000" stroke-width="0.95" />
<line x1="688.10" y1="7.50" x2="690.50" y2="7.50" stroke="#000" stroke-width="0.95" />
<line x1="713.50" y1="375.50" x2="713.50" y2="380.50" stroke="#000" stroke-width="1.1" />
<line x1="938.50" y1="375.50" x2="938.50" y2="380.50" stroke="#000" stroke-width="1.1" />
<line x1="1164.50" y1="375.50" x2="1164.50" y2="380.50" stroke="#000" stroke-width="1.1" />
<line x1="691.50" y1="375.50" x2="691.50" y2="378.50" stroke="#000" stroke-width="0.95" />
<line x1="702.50" y1="375.50" x2="702.50" y2="378.50" stroke="#000" stroke-width="0.95" />
<line x1="781.50" y1="375.50" x2="781.50" y2="378.50" stroke="#000" stroke-width="0.95" />
<line x1="820.50" y1="375.50" x2="820.50" y2="378.50" stroke="#000" stroke-width="0.95" />
<line x1="848.50" y1="375.50" x2="848.50" y2="378.50" stroke="#000" stroke-width="0.95" />
<line x1="870.50" y1="375.50" x2="870.50" y2="378.50" stroke="#000" stroke-width="0.95" />
<line x1="888.50" y1="375.50" x2="888.50" y2="378.50" stroke="#000" stroke-width="0.95" />
<line x1="903.50" y1="375.50" x2="903.50" y2="378.50" stroke="#000" stroke-width="0.95" />
<line x1="916.50" y1="375.50" x2="916.50" y2="378.50" stroke="#000" stroke-width="0.95" />
<line x1="928.50" y1="375.50" x2="928.50" y2="378.50" stroke="#000" stroke-width="0.95" />
<line x1="1006.50" y1="375.50" x2="1006.50" y2="378.50" stroke="#000" stroke-width="0.95" />
<line x1="1046.50" y1="375.50" x2="1046.50" y2="378.50" stroke="#000" stroke-width="0.95" />
<line x1="1074.50" y1="375.50" x2="1074.50" y2="378.50" stroke="#000" stroke-width="0.95" />
<line x1="1096.50" y1="375.50" x2="1096.50" y2="378.50" stroke="#000" stroke-width="0.95" />
<line x1="1114.50" y1="375.50" x2="1114.50" y2="378.50" stroke="#000" stroke-width="0.95" />
<line x1="1129.50" y1="375.50" x2="1129.50" y2="378.50" stroke="#000" stroke-width="0.95" />
<line x1="1142.50" y1="375.50" x2="1142.50" y2="378.50" stroke="#000" stroke-width="0.95" />
<line x1="1153.50" y1="375.50" x2="1153.50" y2="378.50" stroke="#000" stroke-width="0.95" />
<text x="662.10" y="10.60" font-size="14.5" fill="#000" textLength="13.20" lengthAdjust="spacingAndGlyphs" text-anchor="start" >10</text>
<text x="676.30" y="5.80" font-size="10.2" fill="#000" textLength="4.90" lengthAdjust="spacingAndGlyphs" text-anchor="start" >3</text>
<text x="662.10" y="63.60" font-size="14.5" fill="#000" textLength="13.20" lengthAdjust="spacingAndGlyphs" text-anchor="start" >10</text>
<text x="676.30" y="58.80" font-size="10.2" fill="#000" textLength="4.90" lengthAdjust="spacingAndGlyphs" text-anchor="start" >2</text>
<text x="662.10" y="116.60" font-size="14.5" fill="#000" textLength="13.20" lengthAdjust="spacingAndGlyphs" text-anchor="start" >10</text>
<text x="676.30" y="111.80" font-size="10.2" fill="#000" textLength="4.90" lengthAdjust="spacingAndGlyphs" text-anchor="start" >1</text>
<text x="662.10" y="169.60" font-size="14.5" fill="#000" textLength="13.20" lengthAdjust="spacingAndGlyphs" text-anchor="start" >10</text>
<text x="676.30" y="164.80" font-size="10.2" fill="#000" textLength="4.90" lengthAdjust="spacingAndGlyphs" text-anchor="start" >0</text>
<text x="653.60" y="221.60" font-size="14.5" fill="#000" textLength="13.20" lengthAdjust="spacingAndGlyphs" text-anchor="start" >10</text>
<line x1="668.10" y1="213.80" x2="674.60" y2="213.80" stroke="#333" stroke-width="0.95"/>
<text x="676.00" y="216.80" font-size="10.2" fill="#000" textLength="4.90" lengthAdjust="spacingAndGlyphs" text-anchor="start" >1</text>
<text x="653.60" y="274.60" font-size="14.5" fill="#000" textLength="13.20" lengthAdjust="spacingAndGlyphs" text-anchor="start" >10</text>
<line x1="668.10" y1="266.80" x2="674.60" y2="266.80" stroke="#333" stroke-width="0.95"/>
<text x="676.00" y="269.80" font-size="10.2" fill="#000" textLength="4.90" lengthAdjust="spacingAndGlyphs" text-anchor="start" >2</text>
<text x="653.60" y="327.60" font-size="14.5" fill="#000" textLength="13.20" lengthAdjust="spacingAndGlyphs" text-anchor="start" >10</text>
<line x1="668.10" y1="319.80" x2="674.60" y2="319.80" stroke="#333" stroke-width="0.95"/>
<text x="676.00" y="322.80" font-size="10.2" fill="#000" textLength="4.90" lengthAdjust="spacingAndGlyphs" text-anchor="start" >3</text>
<text x="653.60" y="380.60" font-size="14.5" fill="#000" textLength="13.20" lengthAdjust="spacingAndGlyphs" text-anchor="start" >10</text>
<line x1="668.10" y1="372.80" x2="674.60" y2="372.80" stroke="#333" stroke-width="0.95"/>
<text x="676.00" y="375.80" font-size="10.2" fill="#000" textLength="4.90" lengthAdjust="spacingAndGlyphs" text-anchor="start" >4</text>
<text x="703.90" y="394.90" font-size="14.5" fill="#000" textLength="13.20" lengthAdjust="spacingAndGlyphs" text-anchor="start" >10</text>
<text x="718.10" y="390.10" font-size="10.2" fill="#000" textLength="4.90" lengthAdjust="spacingAndGlyphs" text-anchor="start" >3</text>
<text x="929.45" y="394.90" font-size="14.5" fill="#000" textLength="13.20" lengthAdjust="spacingAndGlyphs" text-anchor="start" >10</text>
<text x="943.65" y="390.10" font-size="10.2" fill="#000" textLength="4.90" lengthAdjust="spacingAndGlyphs" text-anchor="start" >4</text>
<text x="1155.00" y="394.90" font-size="14.5" fill="#000" textLength="13.20" lengthAdjust="spacingAndGlyphs" text-anchor="start" >10</text>
<text x="1169.20" y="390.10" font-size="10.2" fill="#000" textLength="4.90" lengthAdjust="spacingAndGlyphs" text-anchor="start" >5</text>
<rect x="1026.30" y="14.50" width="151" height="82.8" rx="4" ry="4" fill="#fff" fill-opacity="0.8" stroke="#cfcfcf" stroke-width="1.3"/>
<text x="1060.60" y="32.00" font-size="13.8" fill="#000" textLength="82.50" lengthAdjust="spacingAndGlyphs" text-anchor="start" stroke="#fff" stroke-width="0.2">Softmax MoE</text>
<line x1="1033.30" y1="54.50" x2="1070.10" y2="54.50" stroke="#006400" stroke-width="1.0" />
<line x1="1051.70" y1="45.50" x2="1051.70" y2="63.50" stroke="#006400" stroke-width="1.35" />
<line x1="1049.05" y1="45.50" x2="1054.35" y2="45.50" stroke="#006400" stroke-width="1.35" />
<line x1="1049.05" y1="63.50" x2="1054.35" y2="63.50" stroke="#006400" stroke-width="1.35" />
<circle cx="1051.70" cy="54.50" r="4.2" fill="#006400"/>
<line x1="1033.30" y1="80.00" x2="1070.10" y2="80.00" stroke="#e40a0a" stroke-width="2.9" stroke-dasharray="17.6 4.5 2.8 4.5"/>
<path transform="translate(1084.70,60.60)" d="M0,-8.9 C0.8,-10.9 3,-11.9 6,-11.9 C10.6,-11.9 13.2,-10 13.2,-7 C13.2,-2.9 9.4,0 5.3,0 L0.9,0 M7.9,-11.6 C6.9,-7.5 5.6,-3 3.6,-0.3" fill="none" stroke="#111" stroke-width="1.35"/>
<text x="1097.50" y="63.70" font-size="12" fill="#000" textLength="6.50" lengthAdjust="spacingAndGlyphs" text-anchor="start" >3</text>
<text x="1106.30" y="62.10" font-size="20" fill="#000" textLength="5.60" lengthAdjust="spacingAndGlyphs" text-anchor="start" >(</text>
<path d="M1114.90,46.10 L1120.40,43.10 L1125.90,46.10" fill="none" stroke="#111" stroke-width="0.85"/>
<text x="1111.90" y="61.10" font-size="18.6" fill="#000" font-style="italic" textLength="12.60" lengthAdjust="spacingAndGlyphs" text-anchor="start" >G</text>
<text x="1126.10" y="63.10" font-size="12" fill="#000" font-style="italic" textLength="7.00" lengthAdjust="spacingAndGlyphs" text-anchor="start" >n</text>
<text x="1134.70" y="61.20" font-size="17" fill="#000" textLength="3.20" lengthAdjust="spacingAndGlyphs" text-anchor="start" >,</text>
<text x="1141.90" y="61.10" font-size="18.6" fill="#000" font-style="italic" textLength="12.60" lengthAdjust="spacingAndGlyphs" text-anchor="start" >G</text>
<path d="M1158.90,57.60V63.00M1156.55,58.95L1161.25,61.65M1156.55,61.65L1161.25,58.95" stroke="#222" stroke-width="0.85" fill="none"/>
<text x="1163.40" y="62.10" font-size="20" fill="#000" textLength="5.60" lengthAdjust="spacingAndGlyphs" text-anchor="start" >)</text>
<text x="1083.70" y="86.80" font-size="17.5" fill="#000" textLength="30.60" lengthAdjust="spacingAndGlyphs" text-anchor="start" >12.9</text>
<text x="1121.50" y="86.80" font-size="17.2" fill="#000" font-style="italic" textLength="10.20" lengthAdjust="spacingAndGlyphs" text-anchor="start" >n</text>
<line x1="1132.50" y1="76.80" x2="1140.50" y2="76.80" stroke="#111" stroke-width="0.85"/>
<text x="1140.90" y="80.90" font-size="12.2" fill="#000" textLength="25.20" lengthAdjust="spacingAndGlyphs" text-anchor="start" >0.11</text>
<rect x="699.50" y="283.40" width="151" height="82.8" rx="4" ry="4" fill="#fff" fill-opacity="0.8" stroke="#cfcfcf" stroke-width="1.3"/>
<text x="733.80" y="300.90" font-size="13.8" fill="#000" textLength="82.50" lengthAdjust="spacingAndGlyphs" text-anchor="start" stroke="#fff" stroke-width="0.2">Sigmoid MoE</text>
<line x1="706.50" y1="323.40" x2="743.30" y2="323.40" stroke="#000080" stroke-width="1.0" />
<line x1="724.90" y1="314.40" x2="724.90" y2="332.40" stroke="#000080" stroke-width="1.35" />
<line x1="722.25" y1="314.40" x2="727.55" y2="314.40" stroke="#000080" stroke-width="1.35" />
<line x1="722.25" y1="332.40" x2="727.55" y2="332.40" stroke="#000080" stroke-width="1.35" />
<circle cx="724.90" cy="323.40" r="4.2" fill="#000080"/>
<line x1="706.50" y1="348.90" x2="743.30" y2="348.90" stroke="#e40a0a" stroke-width="2.9" stroke-dasharray="17.6 4.5 2.8 4.5"/>
<path transform="translate(757.90,329.50)" d="M0,-8.9 C0.8,-10.9 3,-11.9 6,-11.9 C10.6,-11.9 13.2,-10 13.2,-7 C13.2,-2.9 9.4,0 5.3,0 L0.9,0 M7.9,-11.6 C6.9,-7.5 5.6,-3 3.6,-0.3" fill="none" stroke="#111" stroke-width="1.35"/>
<text x="770.70" y="332.60" font-size="12" fill="#000" textLength="6.50" lengthAdjust="spacingAndGlyphs" text-anchor="start" >3</text>
<text x="779.50" y="331.00" font-size="20" fill="#000" textLength="5.60" lengthAdjust="spacingAndGlyphs" text-anchor="start" >(</text>
<path d="M788.10,315.00 L793.60,312.00 L799.10,315.00" fill="none" stroke="#111" stroke-width="0.85"/>
<text x="785.10" y="330.00" font-size="18.6" fill="#000" font-style="italic" textLength="12.60" lengthAdjust="spacingAndGlyphs" text-anchor="start" >G</text>
<text x="799.30" y="332.00" font-size="12" fill="#000" font-style="italic" textLength="7.00" lengthAdjust="spacingAndGlyphs" text-anchor="start" >n</text>
<text x="807.90" y="330.10" font-size="17" fill="#000" textLength="3.20" lengthAdjust="spacingAndGlyphs" text-anchor="start" >,</text>
<text x="815.10" y="330.00" font-size="18.6" fill="#000" font-style="italic" textLength="12.60" lengthAdjust="spacingAndGlyphs" text-anchor="start" >G</text>
<path d="M832.10,326.50V331.90M829.75,327.85L834.45,330.55M829.75,330.55L834.45,327.85" stroke="#222" stroke-width="0.85" fill="none"/>
<text x="836.60" y="331.00" font-size="20" fill="#000" textLength="5.60" lengthAdjust="spacingAndGlyphs" text-anchor="start" >)</text>
<text x="756.90" y="355.70" font-size="17.5" fill="#000" textLength="21.60" lengthAdjust="spacingAndGlyphs" text-anchor="start" >0.6</text>
<text x="785.70" y="355.70" font-size="17.2" fill="#000" font-style="italic" textLength="10.20" lengthAdjust="spacingAndGlyphs" text-anchor="start" >n</text>
<line x1="796.70" y1="345.70" x2="804.70" y2="345.70" stroke="#111" stroke-width="0.85"/>
<text x="805.10" y="349.80" font-size="12.2" fill="#000" textLength="24.00" lengthAdjust="spacingAndGlyphs" text-anchor="start" >0.40</text>
<text x="875.20" y="419.10" font-size="22.5" fill="#000" textLength="106.00" lengthAdjust="spacingAndGlyphs" stroke="#fff" stroke-width="0.20" text-anchor="start" >sample size</text>
<text x="988.70" y="419.10" font-size="22.5" fill="#000" font-style="italic" textLength="12.00" lengthAdjust="spacingAndGlyphs" stroke="#fff" stroke-width="0.20" text-anchor="start" >n</text>
<text transform="translate(643.1,209.7) rotate(-90)" font-size="23" textLength="39.5" lengthAdjust="spacingAndGlyphs" stroke="#fff" stroke-width="0.1">Loss</text>
<text x="793.60" y="468.70" font-size="30.2" fill="#000" textLength="215.30" lengthAdjust="spacingAndGlyphs" text-anchor="start" >(b) Linear Expert</text>
</svg></body></html>
